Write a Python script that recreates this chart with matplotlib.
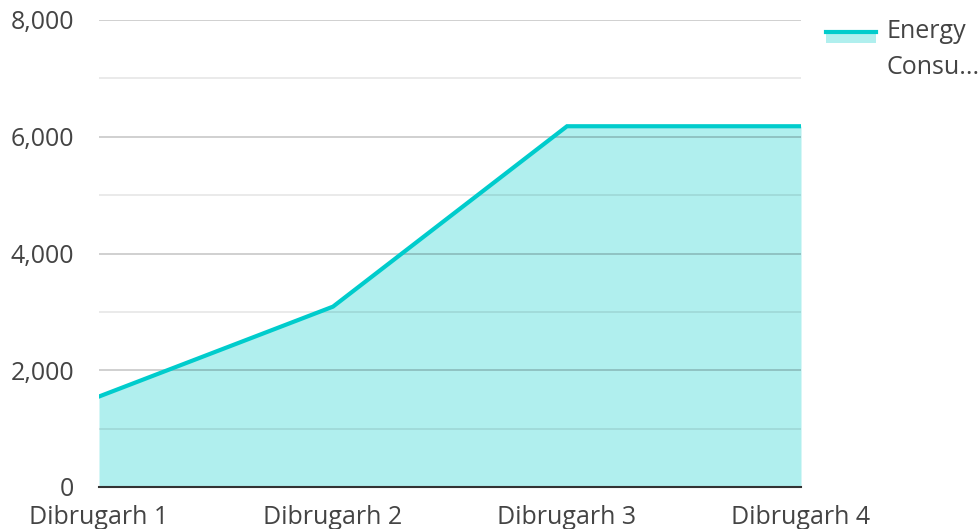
import matplotlib
matplotlib.use("Agg")
import matplotlib.pyplot as plt
from matplotlib.patches import Rectangle
from matplotlib.lines import Line2D
from matplotlib.ticker import FuncFormatter, MultipleLocator

plt.rcParams['font.family'] = ['Open Sans', 'DejaVu Sans']

# data
categories = ["Dibrugarh 1", "Dibrugarh 2", "Dibrugarh 3", "Dibrugarh 4"]
energy = [1550, 3090, 6180, 6180]
legend_lines = ["Energy", "Consu..."]

line_color = "#00cccc"
fill_color = "#b0efee"
text_color = "#444444"
fs = 18

fig = plt.figure(figsize=(9.8, 5.29), dpi=100)
ax = fig.add_axes([99 / 980, 42 / 529, 702 / 980, 467 / 529])

x = list(range(len(categories)))
ax.fill_between(x, energy, 0, color=fill_color, lw=0, zorder=1)
ax.plot(x, energy, color=line_color, lw=3, zorder=3, solid_joinstyle='miter')

ax.set_xlim(0, len(categories) - 1)
ax.set_ylim(0, 8000)
ax.set_xticks(x)
ax.set_xticklabels(categories)
ax.yaxis.set_major_locator(MultipleLocator(2000))
ax.yaxis.set_minor_locator(MultipleLocator(1000))
ax.yaxis.set_major_formatter(FuncFormatter(lambda v, p: f"{int(v):,}"))

# semi-transparent grid so it shows darker through the fill
ax.grid(which='major', axis='y', color='black', alpha=0.2, lw=1.3, zorder=2)
ax.grid(which='minor', axis='y', color='black', alpha=0.09, lw=1.3, zorder=2)
ax.set_axisbelow(False)

for s in ['left', 'right', 'top']:
    ax.spines[s].set_visible(False)
ax.spines['bottom'].set_color('#333333')
ax.spines['bottom'].set_linewidth(1.5)
ax.spines['bottom'].set_zorder(4)

ax.tick_params(axis='both', which='both', length=0, labelsize=fs, labelcolor=text_color)
ax.tick_params(axis='y', pad=18)
ax.tick_params(axis='x', pad=13)

# legend: thin line over a light swatch
fig.add_artist(Rectangle((826 / 980, 1 - 43 / 529), 50 / 980, 12 / 529,
                         transform=fig.transFigure, color=fill_color, lw=0))
fig.add_artist(Line2D([826 / 980, 876 / 980], [1 - 32 / 529, 1 - 32 / 529],
                      transform=fig.transFigure, color=line_color, lw=3))
for i, t in enumerate(legend_lines):
    fig.text(886 / 980, 1 - (32 + 35 * i) / 529, t, fontsize=fs, color=text_color,
             va='center', ha='left')

fig.savefig("out.png", dpi=100)
